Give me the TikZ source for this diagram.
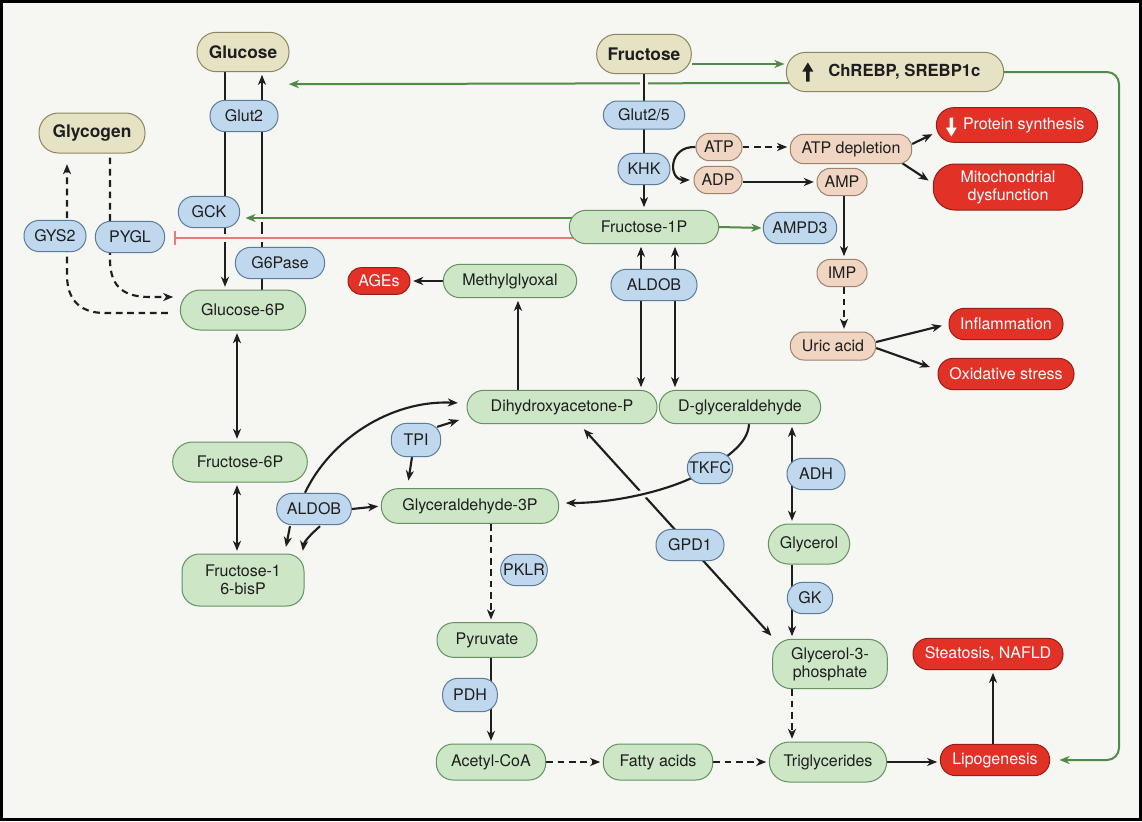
\documentclass[tikz,border=0pt]{standalone}
\usepackage{fontspec}
\setmainfont{TeX Gyre Heros}
\usetikzlibrary{arrows.meta,calc}

\definecolor{paper}{RGB}{246,246,242}
\definecolor{ink}{RGB}{30,30,30}
\definecolor{sugarfill}{RGB}{230,226,196}
\definecolor{sugarline}{RGB}{140,134,96}
\definecolor{enzfill}{RGB}{192,216,238}
\definecolor{enzline}{RGB}{92,124,156}
\definecolor{metfill}{RGB}{204,230,198}
\definecolor{metline}{RGB}{100,146,96}
\definecolor{nrgfill}{RGB}{240,214,194}
\definecolor{nrgline}{RGB}{160,130,108}
\definecolor{effill}{RGB}{226,50,40}
\definecolor{efline}{RGB}{150,30,24}
\definecolor{grn}{RGB}{80,140,72}
\definecolor{inhib}{RGB}{228,124,124}

\pgfdeclarelayer{back}
\pgfsetlayers{back,main}

\tikzset{every picture/.style={line width=0.75pt}}
\tikzset{
  >={Stealth[length=7.5pt,width=6pt,inset=2.2pt]},
  pill/.style={rectangle, draw, line width=0.75pt, inner sep=0pt, align=center, text=ink,
    font=\fontsize{12}{13.5}\selectfont},
  sugar/.style={pill, fill=sugarfill, draw=sugarline, minimum height=29.5pt, rounded corners=14.5pt,
    font=\fontsize{13}{15}\selectfont\bfseries},
  enzyme/.style={pill, fill=enzfill, draw=enzline, minimum height=23.5pt, rounded corners=11.5pt},
  metab/.style={pill, fill=metfill, draw=metline, minimum height=25pt, rounded corners=12.5pt},
  tall/.style={minimum height=30pt, rounded corners=15pt},
  energy/.style={pill, fill=nrgfill, draw=nrgline, minimum height=20.5pt, rounded corners=10pt},
  effect/.style={pill, fill=effill, draw=efline, text=white, minimum height=23.5pt, rounded corners=11.5pt},
  flow/.style={draw=ink, line width=1.6pt, ->, shorten >=2pt},
  both/.style={flow, <->, shorten <=2pt},
  dashflow/.style={flow, dash pattern=on 5pt off 3.5pt},
  grnflow/.style={draw=grn, line width=1.5pt, ->, shorten >=1pt},
  block/.style={draw=inhib, line width=1.5pt, -{Bar[width=10pt]}},
  halo/.style={preaction={draw=paper, line width=6pt, -}},
  fatarrow/.pic={\fill (-1.8,-9.5) -- (-1.8,0.5) -- (-5.5,0.5) -- (0,9.5) -- (5.5,0.5) -- (1.8,0.5) -- (1.8,-9.5) -- cycle;}
}

\begin{document}
\begin{tikzpicture}[x=0.75pt,y=0.75pt,yscale=-1,xscale=1]
\useasboundingbox (0,0) rectangle (1142,821);

%Shape: frame
\begin{pgfonlayer}{back}
\draw[line width=2.25pt, fill=paper] (1.5,1.5) rectangle (1140.5,819.5);
\end{pgfonlayer}

% Text Node: sugars and regulators
\node[sugar, minimum width=69pt] (glucose) at (243,52) {Glucose};
\node[sugar, minimum width=71pt] (fructose) at (644,54) {Fructose};
\node[sugar, minimum width=79.5pt, minimum height=30pt] (glycogen) at (92,133) {Glycogen};
\node[sugar, minimum width=163pt, font=\fontsize{12.5}{14}\selectfont\bfseries] (chrebp) at (895,72) {\hspace*{14pt}ChREBP, SREBP1c};

% Text Node: enzymes
\node[enzyme, minimum width=51pt] (glut2) at (244,116) {Glut2};
\node[enzyme, minimum width=46pt] (gck) at (209,212) {GCK};
\node[enzyme, minimum width=46.5pt] (gys2) at (55,236) {GYS2};
\node[enzyme, minimum width=52pt] (pygl) at (130,237) {PYGL};
\node[enzyme, minimum width=67pt] (gsixpase) at (280,263) {G6Pase};
\node[enzyme, minimum width=61pt, minimum height=21pt, rounded corners=10.5pt] (glutfive) at (644,115) {Glut2/5};
\node[enzyme, minimum width=39pt] (khk) at (644,169) {KHK};
\node[enzyme, minimum width=55pt] (ampd3) at (800,228) {AMPD3};
\node[enzyme, minimum width=64.5pt] (aldob) at (654,285) {ALDOB};
\node[enzyme, minimum width=56pt] (aldoblow) at (314,509) {ALDOB};
\node[enzyme, minimum width=37pt, minimum height=25pt] (tpi) at (416,440) {TPI};
\node[enzyme, minimum width=35pt] (pklr) at (524,570) {PKLR};
\node[enzyme, minimum width=34pt] (tkfc) at (710,468) {TKFC};
\node[enzyme, minimum width=43.5pt] (adh) at (816,474) {ADH};
\node[enzyme, minimum width=51pt] (gpd1) at (690,545) {GPD1};
\node[enzyme, minimum width=34pt] (gk) at (810,598) {GK};
\node[enzyme, minimum width=41pt, minimum height=25pt] (pdh) at (470,695) {PDH};

% Text Node: metabolites
\node[metab, tall, minimum width=94pt] (gsixp) at (243,310) {Glucose-6P};
\node[metab, minimum width=112pt] (fruonep) at (644,227) {Fructose-1P};
\node[metab, minimum width=100pt] (methyl) at (510,281) {Methylglyoxal};
\node[metab, minimum width=142.5pt] (dhap) at (562,407) {Dihydroxyacetone-P};
\node[metab, minimum width=121pt] (dglyc) at (740,407) {D-glyceraldehyde};
\node[metab, tall, minimum width=101pt] (fsixp) at (240,462) {Fructose-6P};
\node[metab, minimum width=133pt, minimum height=26pt] (gathreep) at (470,506) {Glyceraldehyde-3P};
\node[metab, minimum width=91.5pt, minimum height=39pt, rounded corners=13pt] (fbisp) at (243,580) {Fructose-1\\6-bisP};
\node[metab, tall, minimum width=61pt] (glycerol) at (809,544) {Glycerol};
\node[metab, minimum width=86pt, minimum height=37pt, rounded corners=14pt] (glythreep) at (830,664) {Glycerol-3-\\phosphate};
\node[metab, minimum width=75pt, minimum height=26pt] (pyruvate) at (487,640) {Pyruvate};
\node[metab, minimum width=82pt, minimum height=27pt] (acetyl) at (491,762) {Acetyl-CoA};
\node[metab, minimum width=82pt, minimum height=27pt] (fatty) at (658,762) {Fatty acids};
\node[metab, tall, minimum width=88pt] (trig) at (828,762) {Triglycerides};

% Text Node: energy and purines
\node[energy, minimum width=34.5pt] (atp) at (719,147) {ATP};
\node[energy, minimum width=36pt] (adp) at (718,180) {ADP};
\node[energy, minimum width=91pt, minimum height=22pt] (atpdep) at (851,149) {ATP depletion};
\node[energy, minimum width=37.5pt] (amp) at (842,182) {AMP};
\node[energy, minimum width=37.5pt] (imp) at (842,273) {IMP};
\node[energy, minimum width=64pt, minimum height=21pt] (uric) at (833,346) {Uric acid};

% Text Node: outcomes
\node[effect, minimum width=46.5pt, minimum height=20pt, rounded corners=10pt] (ages) at (379,281) {AGEs};
\node[effect, minimum width=121pt, minimum height=26pt, rounded corners=13pt] (protein) at (1017,125) {\hspace*{10pt}Protein synthesis};
\node[effect, minimum width=112pt, minimum height=34.5pt, rounded corners=16pt] (mito) at (1008,187) {Mitochondrial\\dysfunction};
\node[effect, minimum width=85.5pt] (inflam) at (1006,324) {Inflammation};
\node[effect, minimum width=102pt] (oxid) at (1006,374) {Oxidative stress};
\node[effect, minimum width=112.5pt] (steat) at (988,654) {Steatosis, NAFLD};
\node[effect, minimum width=82pt] (lipo) at (995,760) {Lipogenesis};

%Shape: up/down markers
\pic[fill=ink] at ($(chrebp.west)+(22,0)$) {fatarrow};
\pic[fill=white, rotate=180] at ($(protein.west)+(15.5,2)$) {fatarrow};

% vertical lanes
\coordinate (xgin) at (225,0);
\coordinate (xgout) at (262,0);
\coordinate (xhex) at (237,0);
\coordinate (xal) at (641,0);
\coordinate (xar) at (675,0);
\coordinate (xmgo) at (518,0);
\coordinate (xgly) at (491,0);
\coordinate (xgol) at (792,0);
\coordinate (xpur) at (844,0);
\coordinate (xsteat) at (993,0);
\coordinate (xright) at (1119,400);

\begin{pgfonlayer}{back}
% glucose
\draw[flow] (glucose.south -| xgin) -- (gsixp.north -| xgin);
\draw[flow] (gsixp.north -| xgout) -- (glucose.south -| xgout);
\draw[both] (gsixp.south -| xhex) -- (fsixp.north -| xhex);
\draw[both] (fsixp.south -| xhex) -- (fbisp.north -| xhex);
% glycogen
\draw[dashflow] ($(gsixp.west)+(-12,3)$) -- (105,313) .. controls (80,313) and (67,300) .. (67,275) -- ($(glycogen.south)+(-25,8)$);
\draw[dashflow] ($(glycogen.south)+(18,4)$) -- (110,262) .. controls (111,288) and (125,297) .. (150,297) -- ($(gsixp.west)+(-4,-13)$);
% fructose
\draw[grnflow] ($(chrebp.west)+(4,11)$) -- ($(glucose.south east)+(-2,12)$);
\draw[flow, halo] (fructose.south) -- (fruonep.north);
\draw[grnflow] ($(fructose.east)+(0,10)$) -- ($(chrebp.west)+(0,-8)$);
\draw[grnflow, rounded corners=9pt] (chrebp.east) -| (xright) |- ($(lipo.east)+(8,0)$);
\draw[flow] (atp.west) .. controls (668,146) and (668,180) .. ($(adp.west)+(-1,0)$);
\draw[dashflow] (atp.east) -- (atp.east -| atpdep.west);
\draw[flow] (adp.east |- amp.west) -- (amp.west);
\draw[flow] ($(atpdep.east)+(0,-5)$) -- ($(protein.west)+(-1,8)$);
\draw[flow] ($(atpdep.south east)+(-10,-1)$) -- ($(mito.west)+(-2,-5)$);
\draw[flow] (amp.south -| xpur) -- (imp.north -| xpur);
\draw[dashflow] (imp.south -| xpur) -- (uric.north -| xpur);
\draw[flow] ($(uric.east)+(0,-4)$) -- ($(inflam.west)+(-4,1)$);
\draw[flow] ($(uric.east)+(0,2)$) -- ($(oxid.west)+(-5,-6)$);
% fructose-1P
\draw[grnflow] (fruonep.east) -- (ampd3.west);
\draw[grnflow, halo] ($(fruonep.west)+(10,-9)$) -- ($(gck.east)+(4,6)$);
\draw[block, halo] ($(fruonep.west)+(10,11)$) -- ($(pygl.east)+(9,1)$);
\draw[both] (fruonep.south -| xal) -- (dhap.north -| xal);
\draw[both] (fruonep.south -| xar) -- (dglyc.north -| xar);
\draw[flow] (dhap.north -| xmgo) -- (methyl.south -| xmgo);
\draw[flow] (methyl.west) -- (ages.east);
% trioses
\draw[flow] ($(aldoblow.north)+(-9,0)$) .. controls (330,440) and (390,400) .. ($(dhap.west)+(-6,-4)$);
\draw[flow] (aldoblow.east) -- (gathreep.west);
\draw[flow] ($(aldoblow.south)+(-24,1)$) -- ($(fbisp.north east)+(-19,-4)$);
\draw[flow] ($(aldoblow.south)+(6,1)$) .. controls (310,535) and (304,542) .. ($(fbisp.north east)+(-2,0)$);
\draw[flow] ($(tpi.north east)+(-4,4)$) -- ($(dhap.south west)+(-5,-5)$);
\draw[flow] ($(tpi.south)+(-4,0)$) -- ($(gathreep.north)+(-62,-5)$);
\draw[both] ($(dhap.south)+(20,3)$) -- ($(glythreep.north west)+(1,-1)$);
\draw[flow, halo] ($(dglyc.south)+(9,0)$) .. controls (748,440) and (735,452) .. (tkfc.center) .. controls (680,488) and (620,503) .. ($(gathreep.east)+(4,-3)$);
% glycerol
\draw[both] (dglyc.south -| xgol) -- (glycerol.north -| xgol);
\draw[flow] (glycerol.south -| xgol) -- (glythreep.north -| xgol);
\draw[dashflow] (glythreep.south -| xgol) -- (trig.north -| xgol);
% lipids
\draw[dashflow] (gathreep.south -| xgly) -- (pyruvate.north -| xgly);
\draw[flow] (pyruvate.south -| xgly) -- (acetyl.north -| xgly);
\draw[dashflow] (acetyl.east) -- (fatty.west);
\draw[dashflow] (fatty.east) -- (trig.west);
\draw[flow] (trig.east) -- (trig.east -| lipo.west);
\draw[flow] (lipo.north -| xsteat) -- (steat.south -| xsteat);
\end{pgfonlayer}

\end{tikzpicture}
\end{document}
